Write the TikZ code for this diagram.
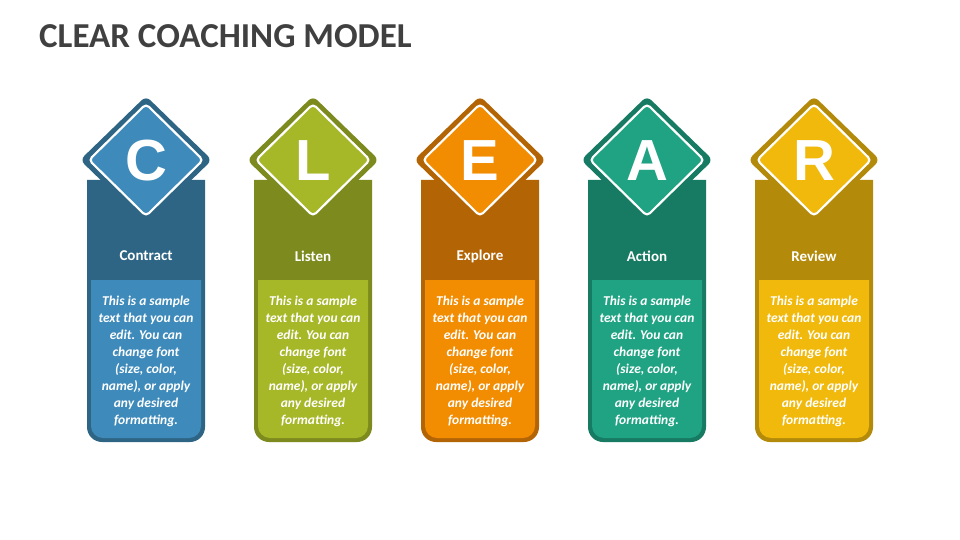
\documentclass[tikz,border=0pt]{standalone}
\usepackage{fontspec}
\setmainfont{Carlito}
\newfontfamily\letterfont{Liberation Sans}
\begin{document}
\begin{tikzpicture}[x=1pt,y=-1pt,
  body/.style={align=center,inner sep=0pt,font=\fontsize{13.5}{17}\selectfont\itshape\bfseries,text=white},
  head/.style={font=\fontsize{15}{16}\selectfont\bfseries,text=white},
  letter/.style={font=\fontsize{58}{58}\selectfont\letterfont\bfseries,text=white}]
\useasboundingbox (0,0) rectangle (960,540);
\node[anchor=west,inner sep=0pt,font=\fontsize{35}{36}\selectfont\bfseries,text=black!75] (title) at (39,36) {CLEAR COACHING MODEL};
\definecolor{c1l}{HTML}{3E8ABA}\definecolor{c1d}{HTML}{2E6585}
\definecolor{c2l}{HTML}{A6B727}\definecolor{c2d}{HTML}{7D8A1E}
\definecolor{c3l}{HTML}{F28C00}\definecolor{c3d}{HTML}{B36405}
\definecolor{c4l}{HTML}{1FA383}\definecolor{c4d}{HTML}{177A62}
\definecolor{c5l}{HTML}{F0B90B}\definecolor{c5d}{HTML}{B38A0A}
\foreach \i/\cx/\L/\H in {1/146/C/Contract,2/313/L/Listen,3/480/E/Explore,4/647/A/Action,5/814/R/Review}{
  \fill[c\i d] (\cx-59,180) {[rounded corners=15pt] -- (\cx-59,442) -- (\cx+59,442)} -- (\cx+59,180) -- cycle;
  \fill[c\i l] (\cx-55,280) {[rounded corners=12pt] -- (\cx-55,438) -- (\cx+55,438)} -- (\cx+55,280) -- cycle;
  \fill[c\i d,rounded corners=6pt] (\cx,96) -- (\cx+66,160) -- (\cx,224) -- (\cx-66,160) -- cycle;
  \draw[white,line width=2.2pt,fill=c\i l,rounded corners=4pt] (\cx,104) -- (\cx+57,160) -- (\cx,216) -- (\cx-57,160) -- cycle;
  \node[letter] (l\i) at (\cx,161) {\L};
  \node[head] (h\i) at (\cx,256) {\H};
  \node[body,anchor=north] (b\i) at (\cx,296) {This is a sample\\text that you can\\edit. You can\\change font\\(size, color,\\name), or apply\\any desired\\formatting.};
}
\end{tikzpicture}
\end{document}
